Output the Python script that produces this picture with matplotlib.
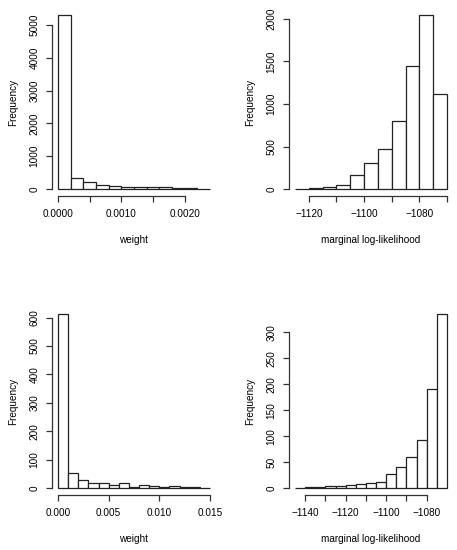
import numpy as np
import matplotlib
matplotlib.use("Agg")
import matplotlib.pyplot as plt

plt.rcParams['font.family'] = ['Liberation Sans', 'DejaVu Sans']

# top left: weights (first run)
w1_edges = np.arange(0, 0.0024 + 1e-9, 0.0002)
w1_counts = [5305, 335, 204, 134, 103, 75, 72, 62, 54, 45, 36, 12]
w1_ticks = [0, 0.0005, 0.0010, 0.0015, 0.0020]
w1_labels = ["0.0000", "", "0.0010", "", "0.0020"]
w1_yticks = [0, 1000, 2000, 3000, 4000, 5000]

# top right: marginal log-likelihood (first run)
m1_edges = np.arange(-1125, -1069, 5)
m1_counts = [4, 8, 20, 45, 165, 302, 475, 800, 1451, 2047, 1118]
m1_ticks = [-1120, -1110, -1100, -1090, -1080, -1070]
m1_labels = ["\u22121120", "", "\u22121100", "", "\u22121080", ""]
m1_yticks = [0, 500, 1000, 1500, 2000]

# bottom left: weights (second run)
w2_edges = np.arange(0, 0.015 + 1e-9, 0.001)
w2_counts = [613, 52, 28, 16, 18, 9, 18, 4, 11, 7, 4, 7, 4, 5, 1]
w2_ticks = [0, 0.005, 0.010, 0.015]
w2_labels = ["0.000", "0.005", "0.010", "0.015"]
w2_yticks = [0, 100, 200, 300, 400, 500, 600]

# bottom right: marginal log-likelihood (second run)
m2_edges = np.arange(-1145, -1069, 5)
m2_counts = [1, 1.5, 2, 4, 4, 6.5, 8.5, 10, 12, 27, 41, 59, 92, 191, 335]
m2_ticks = [-1140, -1130, -1120, -1110, -1100, -1090, -1080]
m2_labels = ["\u22121140", "", "\u22121120", "", "\u22121100", "", "\u22121080"]
m2_yticks = [0, 50, 100, 150, 200, 250, 300]

W, H = 457, 550
fig = plt.figure(figsize=(W / 100, H / 100), dpi=100)

panels = [
    (52, 8, w1_edges, w1_counts, w1_ticks, w1_labels, w1_yticks, "weight"),
    (289, 8, m1_edges, m1_counts, m1_ticks, m1_labels, m1_yticks, "marginal log-likelihood"),
    (52, 307, w2_edges, w2_counts, w2_ticks, w2_labels, w2_yticks, "weight"),
    (289, 307, m2_edges, m2_counts, m2_ticks, m2_labels, m2_yticks, "marginal log-likelihood"),
]

for left, top, edges, counts, xt, xl, yt, xlab in panels:
    pw, ph = 164, 188
    ax = fig.add_axes([left / W, 1 - (top + ph) / H, pw / W, ph / H])
    edges = np.asarray(edges)
    ax.bar(edges[:-1], counts, width=np.diff(edges), align='edge',
           color='white', edgecolor='#222222', linewidth=0.9)
    # R style axis extension of 4 percent
    xr = edges[-1] - edges[0]
    ax.set_xlim(edges[0] - 0.04 * xr, edges[-1] + 0.04 * xr)
    ym = max(counts)
    ax.set_ylim(-0.04 * ym, 1.04 * ym)
    for s in ['top', 'right']:
        ax.spines[s].set_visible(False)
    ax.spines['bottom'].set_bounds(xt[0], xt[-1])
    ax.spines['left'].set_bounds(yt[0], yt[-1])
    for s in ['bottom', 'left']:
        ax.spines[s].set_linewidth(0.9)
        ax.spines[s].set_color('#333333')
    ax.set_xticks(xt)
    ax.set_xticklabels(xl)
    ax.set_yticks(yt)
    ax.set_yticklabels([str(v) for v in yt], rotation=90, va='center')
    ax.tick_params(axis='both', length=4, width=0.9, color='#333333',
                   labelsize=7.2, pad=5)
    ax.set_xlabel(xlab, fontsize=7.2, labelpad=12)
    ax.set_ylabel("Frequency", fontsize=7.2, labelpad=8.5)

fig.savefig("out.png", dpi=100)
